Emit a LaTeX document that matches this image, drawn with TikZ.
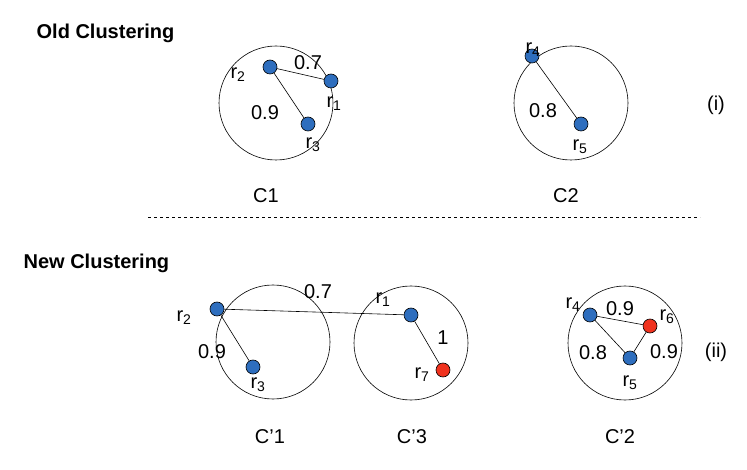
\documentclass[tikz,border=0pt]{standalone}
\usepackage{fontspec}
\setmainfont{Liberation Sans}
\definecolor{dotblue}{RGB}{46,110,190}
\definecolor{dotred}{RGB}{240,50,30}
\begin{document}
\begin{tikzpicture}[x=1pt,y=-1pt,font=\fontsize{20}{23}\selectfont,semithick]
        \tikzset{rec/.style={draw=black, circle, fill=dotblue, inner sep=0pt, minimum size=14pt},
        newrec/.style={rec, fill=dotred},
        clus/.style={draw, circle, inner sep=0pt, minimum size=114pt},
        lbl/.style={inner sep=1pt},
        head/.style={font=\fontsize{20}{23}\selectfont\bfseries, anchor=west}
        }
        \useasboundingbox (0,0) rectangle (747,470);
        \node [head] (old) at (33,33) {Old Clustering};
        \node [head] (new) at (20,263) {New Clustering};

%% old clustering
        \node [clus] (c1) at (276,103) {};
        \node [clus] (c2) at (571,103) {};
        \node [rec] (a2) at (270,67) {};
        \node [rec] (a1) at (331,81) {};
        \node [rec] (a3) at (308,124) {};
        \node [rec] (a4) at (532,56) {};
        \node [rec] (a5) at (581,124) {};
        \draw (a2) -- (a1) (a2) -- (a3) (a4) -- (a5);
        \node [lbl] at (238,75) {r\textsubscript{2}};
        \node [lbl] at (308,63) {0.7};
        \node [lbl] at (334,104) {r\textsubscript{1}};
        \node [lbl] at (265,113) {0.9};
        \node [lbl] at (313,145) {r\textsubscript{3}};
        \node [lbl] at (533,50) {r\textsubscript{4}};
        \node [lbl] at (543,111) {0.8};
        \node [lbl] at (580,147) {r\textsubscript{5}};
        \node at (266,196) {C1};
        \node at (566,196) {C2};
        \node at (716,105) {(i)};

        \draw [dashed] (148,217) -- (700,217);

%% new clustering
        \node [clus] (d1) at (273,342) {};
        \node [clus] (d3) at (411,343) {};
        \node [clus] (d2) at (625,343) {};
        \node [rec] (b2) at (217,309) {};
        \node [rec] (b3) at (253,367) {};
        \node [rec] (b1) at (411,315) {};
        \node [newrec] (b7) at (443,370) {};
        \node [rec] (b4) at (590,315) {};
        \node [newrec] (b6) at (650,326) {};
        \node [rec] (b5) at (630,358) {};
        \draw (b2) -- (b1) (b2) -- (b3) (b1) -- (b7)
              (b4) -- (b6) (b4) -- (b5) (b6) -- (b5);
        \node [lbl] at (184,318) {r\textsubscript{2}};
        \node [lbl] at (212,352) {0.9};
        \node [lbl] at (258,385) {r\textsubscript{3}};
        \node [lbl] at (318,292) {0.7};
        \node [lbl] at (383,300) {r\textsubscript{1}};
        \node [lbl] at (443,338) {1};
        \node [lbl] at (422,375) {r\textsubscript{7}};
        \node [lbl] at (573,305) {r\textsubscript{4}};
        \node [lbl] at (620,309) {0.9};
        \node [lbl] at (667,317) {r\textsubscript{6}};
        \node [lbl] at (593,353) {0.8};
        \node [lbl] at (664,352) {0.9};
        \node [lbl] at (630,383) {r\textsubscript{5}};
        \node at (270,437) {C'1};
        \node at (412,437) {C'3};
        \node at (620,437) {C'2};
        \node at (716,352) {(ii)};
\end{tikzpicture}
\end{document}
